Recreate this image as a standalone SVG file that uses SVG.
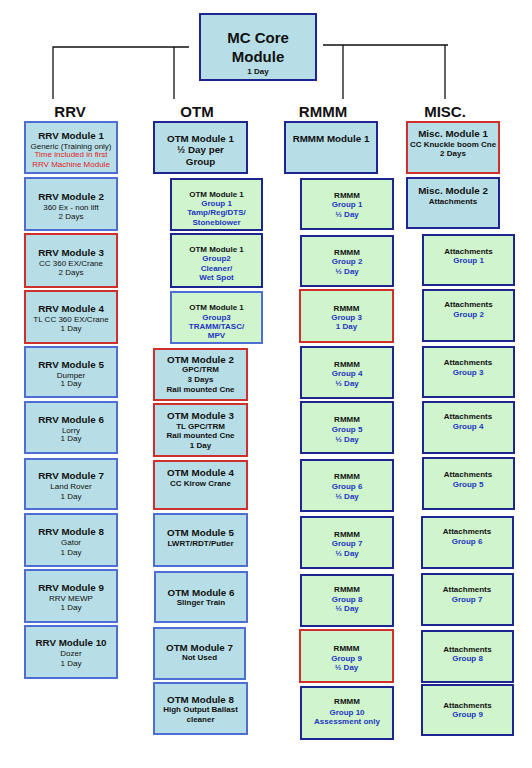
<svg xmlns="http://www.w3.org/2000/svg" width="532" height="768" viewBox="0 0 532 768">
<style>
rect{stroke-width:2}
.bm{fill:#b7dee6;stroke:#4d6fd4}
.bn{fill:#b7dee6;stroke:#1c2590}
.br{fill:#b7dee6;stroke:#d0302c}
.gn{fill:#d0f5cd;stroke:#1c2590}
.gm{fill:#d0f5cd;stroke:#4d6fd4}
.gr{fill:#d0f5cd;stroke:#d0302c}
text{font-family:"Liberation Sans",Arial,sans-serif;text-anchor:middle;fill:#111}
.h{font-size:15px;font-weight:bold}
.c{font-size:15px;font-weight:bold}
.t{font-size:9.8px;font-weight:bold}
.s{font-size:8px}
.sb{font-size:8px;font-weight:bold}
.bl{font-size:8px;font-weight:bold;fill:#2236c0}
.rd{font-size:8px;fill:#e0242a}
.ln{stroke:#111;stroke-width:1.3;fill:none}
</style>
<rect x="0" y="0" width="532" height="768" fill="#ffffff" stroke="none"/>
<g id="connectors">
<path class="ln" d="M53 99V47H189M174 47V99"/>
<path class="ln" d="M323 45H448M343 45V99M445 45V99"/>
</g>
<g id="headings">
<text class="h" x="70" y="117">RRV</text>
<text class="h" x="197" y="117">OTM</text>
<text class="h" x="323" y="117">RMMM</text>
<text class="h" x="445" y="117">MISC.</text>
</g>
<g id="mc-core"><rect class="bn" x="200" y="14" width="116" height="66"/><text class="c" x="258" y="43">MC Core</text><text class="c" x="258" y="62">Module</text><text class="sb" x="258" y="74">1 Day</text></g>

<g id="rrv1"><rect class="bm" x="25" y="122" width="92" height="51"/><text class="t" x="71" y="139">RRV Module 1</text><text class="s" x="71" y="149">Generic (Training only)</text><text class="rd" x="71" y="157">Time included in first</text><text class="rd" x="71" y="167">RRV Machine Module</text></g>
<g id="rrv2"><rect class="bm" x="25" y="178" width="92" height="52"/><text class="t" x="71" y="200">RRV Module 2</text><text class="s" x="71" y="210">360 Ex - non lift</text><text class="s" x="71" y="219">2 Days</text></g>
<g id="rrv3"><rect class="br" x="25" y="234" width="92" height="53"/><text class="t" x="71" y="256">RRV Module 3</text><text class="s" x="71" y="266">CC 360 EX/Crane</text><text class="s" x="71" y="275">2 Days</text></g>
<g id="rrv4"><rect class="br" x="25" y="291" width="92" height="52"/><text class="t" x="71" y="312">RRV Module 4</text><text class="s" x="71" y="322">TL CC 360 EX/Crane</text><text class="s" x="71" y="331">1 Day</text></g>
<g id="rrv5"><rect class="bm" x="25" y="347" width="92" height="50"/><text class="t" x="71" y="368">RRV Module 5</text><text class="s" x="71" y="378">Dumper</text><text class="s" x="71" y="386">1 Day</text></g>
<g id="rrv6"><rect class="bm" x="25" y="402" width="92" height="51"/><text class="t" x="71" y="423">RRV Module 6</text><text class="s" x="71" y="433">Lorry</text><text class="s" x="71" y="441">1 Day</text></g>
<g id="rrv7"><rect class="bm" x="25" y="459" width="92" height="50"/><text class="t" x="71" y="479">RRV Module 7</text><text class="s" x="71" y="489">Land Rover</text><text class="s" x="71" y="499">1 Day</text></g>
<g id="rrv8"><rect class="bm" x="25" y="514" width="92" height="52"/><text class="t" x="71" y="535">RRV Module 8</text><text class="s" x="71" y="545">Gator</text><text class="s" x="71" y="555">1 Day</text></g>
<g id="rrv9"><rect class="bm" x="25" y="570" width="92" height="52"/><text class="t" x="71" y="591">RRV Module 9</text><text class="s" x="71" y="601">RRV MEWP</text><text class="s" x="71" y="610">1 Day</text></g>
<g id="rrv10"><rect class="bm" x="25" y="626" width="92" height="52"/><text class="t" x="71" y="646">RRV Module 10</text><text class="s" x="71" y="656">Dozer</text><text class="s" x="71" y="666">1 Day</text></g>

<g id="otm1"><rect class="bn" x="154" y="122" width="93" height="51"/><text class="t" x="200.5" y="142">OTM Module 1</text><text class="t" x="200.5" y="153">½ Day per</text><text class="t" x="200.5" y="165">Group</text></g>
<g id="otm1-g1"><rect class="gn" x="171" y="179" width="91" height="51"/><text class="sb" x="216.5" y="197">OTM Module 1</text><text class="bl" x="216.5" y="206">Group 1</text><text class="bl" x="216.5" y="215">Tamp/Reg/DTS/</text><text class="bl" x="216.5" y="225">Stoneblower</text></g>
<g id="otm1-g2"><rect class="gn" x="171" y="234" width="91" height="53"/><text class="sb" x="216.5" y="252">OTM Module 1</text><text class="bl" x="216.5" y="261">Group2</text><text class="bl" x="216.5" y="271">Cleaner/</text><text class="bl" x="216.5" y="280">Wet Spot</text></g>
<g id="otm1-g3"><rect class="gm" x="171" y="292" width="91" height="51"/><text class="sb" x="216.5" y="310">OTM Module 1</text><text class="bl" x="216.5" y="320">Group3</text><text class="bl" x="216.5" y="329">TRAMM/TASC/</text><text class="bl" x="216.5" y="338">MPV</text></g>
<g id="otm2"><rect class="br" x="154" y="349" width="93" height="51"/><text class="t" x="200.5" y="363">OTM Module 2</text><text class="sb" x="200.5" y="372">GPC/TRM</text><text class="sb" x="200.5" y="382">3 Days</text><text class="sb" x="200.5" y="392">Rail mounted Cne</text></g>
<g id="otm3"><rect class="br" x="154" y="404" width="93" height="52"/><text class="t" x="200.5" y="419">OTM Module 3</text><text class="sb" x="200.5" y="429">TL GPC/TRM</text><text class="sb" x="200.5" y="438">Rail mounted Cne</text><text class="sb" x="200.5" y="448">1 Day</text></g>
<g id="otm4"><rect class="br" x="154" y="461" width="93" height="48"/><text class="t" x="200.5" y="476">OTM Module 4</text><text class="sb" x="200.5" y="486">CC Kirow Crane</text></g>
<g id="otm5"><rect class="bm" x="154" y="514" width="93" height="52"/><text class="t" x="200.5" y="536">OTM Module 5</text><text class="sb" x="200.5" y="546">LWRT/RDT/Putler</text></g>
<g id="otm6"><rect class="bm" x="155" y="572" width="92" height="50"/><text class="t" x="201" y="596">OTM Module 6</text><text class="sb" x="201" y="605">Slinger Train</text></g>
<g id="otm7"><rect class="bm" x="154" y="628" width="91" height="51"/><text class="t" x="199.5" y="651">OTM Module 7</text><text class="sb" x="199.5" y="660">Not Used</text></g>
<g id="otm8"><rect class="bm" x="154" y="683" width="93" height="51"/><text class="t" x="200.5" y="703">OTM Module 8</text><text class="sb" x="200.5" y="712">High Output Ballast</text><text class="sb" x="200.5" y="722">cleaner</text></g>

<g id="rmmm1"><rect class="bn" x="285" y="122" width="92" height="51"/><text class="t" x="331" y="142">RMMM Module 1</text></g>
<g id="rmmm-g1"><rect class="gn" x="301" y="179" width="92" height="50"/><text class="sb" x="347" y="198">RMMM</text><text class="bl" x="347" y="207">Group 1</text><text class="bl" x="347" y="217">½ Day</text></g>
<g id="rmmm-g2"><rect class="gn" x="301" y="236" width="92" height="50"/><text class="sb" x="347" y="255">RMMM</text><text class="bl" x="347" y="264">Group 2</text><text class="bl" x="347" y="274">½ Day</text></g>
<g id="rmmm-g3"><rect class="gr" x="300" y="290" width="93" height="52"/><text class="sb" x="346.5" y="311">RMMM</text><text class="bl" x="346.5" y="320">Group 3</text><text class="bl" x="346.5" y="329">1 Day</text></g>
<g id="rmmm-g4"><rect class="gn" x="301" y="347" width="92" height="51"/><text class="sb" x="347" y="367">RMMM</text><text class="bl" x="347" y="376">Group 4</text><text class="bl" x="347" y="386">½ Day</text></g>
<g id="rmmm-g5"><rect class="gn" x="301" y="402" width="92" height="51"/><text class="sb" x="347" y="422">RMMM</text><text class="bl" x="347" y="432">Group 5</text><text class="bl" x="347" y="442">½ Day</text></g>
<g id="rmmm-g6"><rect class="gn" x="301" y="460" width="92" height="51"/><text class="sb" x="347" y="479">RMMM</text><text class="bl" x="347" y="489">Group 6</text><text class="bl" x="347" y="499">½ Day</text></g>
<g id="rmmm-g7"><rect class="gn" x="301" y="517" width="92" height="51"/><text class="sb" x="347" y="537">RMMM</text><text class="bl" x="347" y="546">Group 7</text><text class="bl" x="347" y="556">½ Day</text></g>
<g id="rmmm-g8"><rect class="gn" x="301" y="575" width="92" height="51"/><text class="sb" x="347" y="592">RMMM</text><text class="bl" x="347" y="602">Group 8</text><text class="bl" x="347" y="611">½ Day</text></g>
<g id="rmmm-g9"><rect class="gr" x="300" y="630" width="93" height="52"/><text class="sb" x="346.5" y="651">RMMM</text><text class="bl" x="346.5" y="661">Group 9</text><text class="bl" x="346.5" y="670">½ Day</text></g>
<g id="rmmm-g10"><rect class="gn" x="301" y="687" width="92" height="52"/><text class="sb" x="347" y="704">RMMM</text><text class="bl" x="347" y="715">Group 10</text><text class="bl" x="347" y="724">Assessment only</text></g>

<g id="misc1"><rect class="br" x="407" y="122" width="92" height="51"/><text class="t" x="453" y="137">Misc. Module 1</text><text class="sb" x="453" y="147">CC Knuckle boom Cne</text><text class="sb" x="453" y="156">2 Days</text></g>
<g id="misc2"><rect class="bn" x="407" y="178" width="92" height="50"/><text class="t" x="453" y="194">Misc. Module 2</text><text class="sb" x="453" y="204">Attachments</text></g>
<g id="att1"><rect class="gn" x="423" y="235" width="91" height="50"/><text class="sb" x="468.5" y="254">Attachments</text><text class="bl" x="468.5" y="263">Group 1</text></g>
<g id="att2"><rect class="gn" x="423" y="290" width="91" height="51"/><text class="sb" x="468.5" y="307">Attachments</text><text class="bl" x="468.5" y="317">Group 2</text></g>
<g id="att3"><rect class="gn" x="423" y="347" width="91" height="50"/><text class="sb" x="468" y="365">Attachments</text><text class="bl" x="468" y="375">Group 3</text></g>
<g id="att4"><rect class="gn" x="423" y="402" width="91" height="51"/><text class="sb" x="468" y="419">Attachments</text><text class="bl" x="468" y="429">Group 4</text></g>
<g id="att5"><rect class="gn" x="423" y="458" width="91" height="51"/><text class="sb" x="468" y="477">Attachments</text><text class="bl" x="468" y="487">Group 5</text></g>
<g id="att6"><rect class="gn" x="422" y="517" width="91" height="51"/><text class="sb" x="467" y="534">Attachments</text><text class="bl" x="467" y="544">Group 6</text></g>
<g id="att7"><rect class="gn" x="422" y="574" width="91" height="51"/><text class="sb" x="467" y="592">Attachments</text><text class="bl" x="467" y="602">Group 7</text></g>
<g id="att8"><rect class="gn" x="422" y="631" width="91" height="51"/><text class="sb" x="467.5" y="652">Attachments</text><text class="bl" x="467.5" y="661">Group 8</text></g>
<g id="att9"><rect class="gn" x="422" y="685" width="91" height="50"/><text class="sb" x="467.5" y="708">Attachments</text><text class="bl" x="467.5" y="717">Group 9</text></g>
</svg>
